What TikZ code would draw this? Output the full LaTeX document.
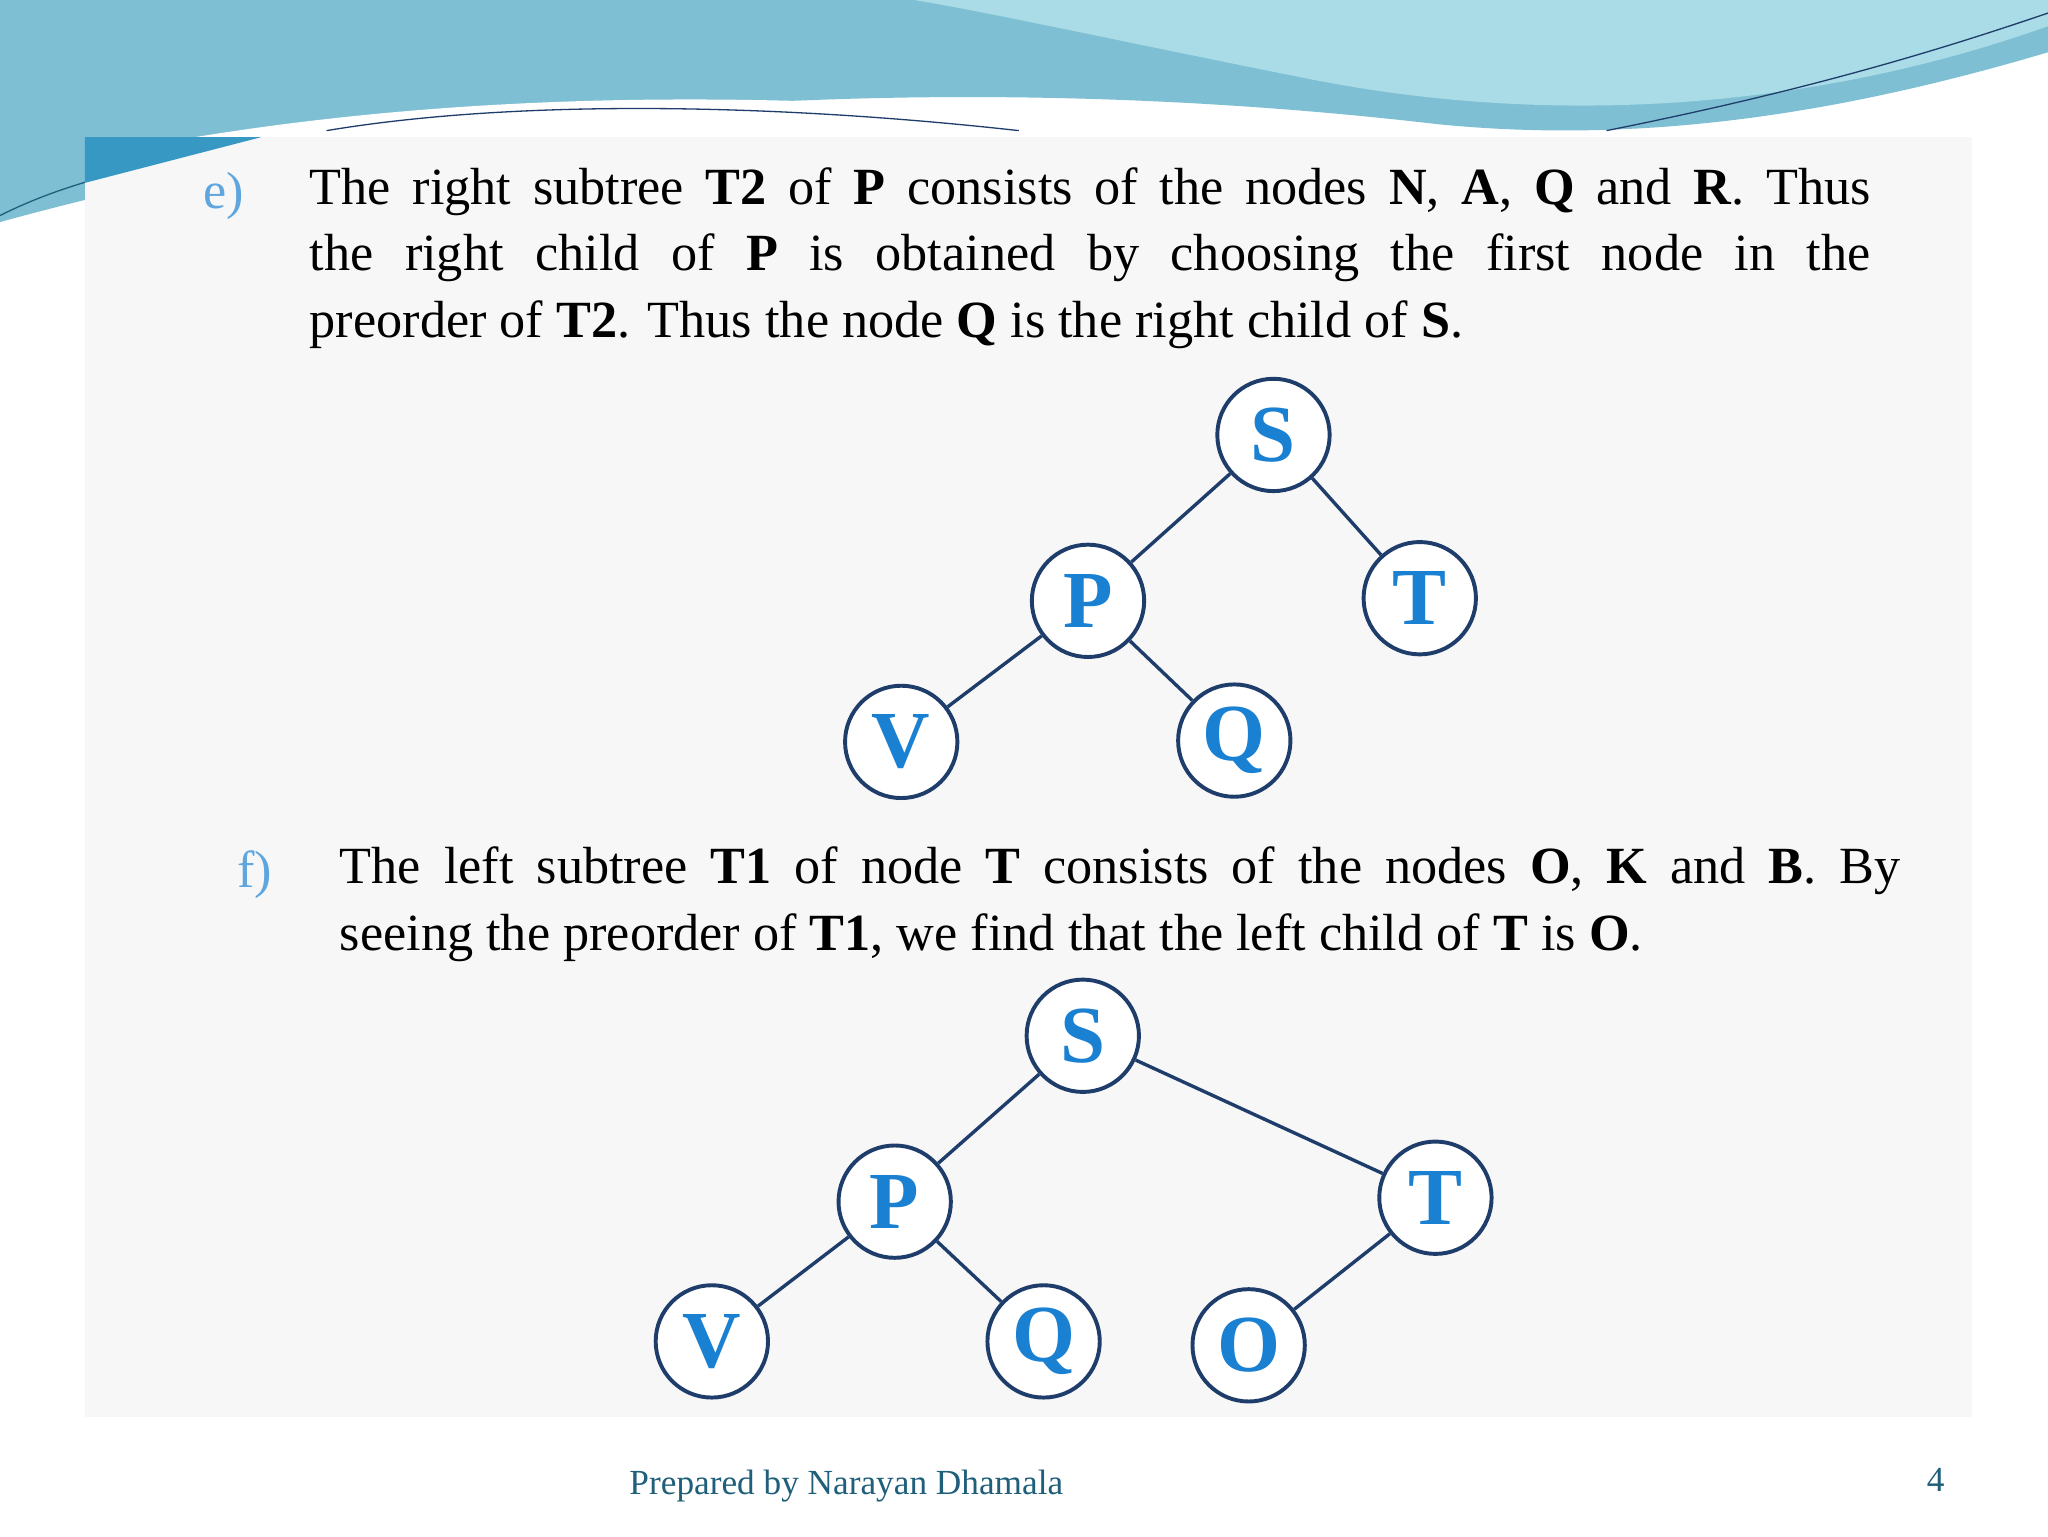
\documentclass[tikz,border=0pt]{standalone}
\usepackage{fontspec}
\setmainfont{Liberation Serif}
\definecolor{navy}{HTML}{1F3D6B}
\definecolor{lblue}{HTML}{1A80D2}
\definecolor{wave1}{HTML}{7FBFD3}
\definecolor{wave2}{HTML}{A9DCE6}
\definecolor{teal}{HTML}{1F5F7A}
\begin{document}
\begin{tikzpicture}[x=1pt,y=-1pt,
  tn/.style={circle,draw=navy,line width=3pt,minimum size=86pt,inner sep=0pt,fill=white,
    text=lblue,font=\fontsize{62}{62}\selectfont\bfseries},
  ed/.style={draw=navy,line width=2.6pt},
  para/.style={anchor=north west,align=left,inner sep=0pt,font=\fontsize{40}{51}\selectfont}]
\useasboundingbox (0,0) rectangle (1568,1176);
\fill[white] (0,0) rectangle (1568,1176);
% top waves
\fill[wave1] (0,0) -- (1568,0) -- (1568,40) .. controls (1400,90) and (1250,110) .. (1100,95) .. controls (800,60) and (400,60) .. (0,170) -- cycle;
\fill[wave2] (700,0) -- (1568,0) -- (1568,20) .. controls (1400,80) and (1200,100) .. (1000,60) .. controls (850,30) and (760,10) .. (700,0) -- cycle;
\fill[white] (120,110) .. controls (400,60) and (700,70) .. (1000,110) -- (120,110) -- cycle;
\draw[navy,line width=1pt] (250,100) .. controls (400,75) and (600,80) .. (780,100);
\draw[navy,line width=1pt] (1230,100) .. controls (1380,70) and (1480,40) .. (1568,10);
\draw[teal,line width=1pt] (0,165) .. controls (30,150) and (60,140) .. (100,130);
\fill[white!97!black] (65,105) rectangle (1510,1085);
\fill[cyan!60!teal] (65,105) -- (200,105) -- (65,140) -- cycle;
% text e
\node[anchor=north west,text=lblue!70,font=\fontsize{40}{51}\selectfont] (e) at (152,128) {e)};
\node[para] (pe) at (237,128) {\makebox[1195pt][s]{The right subtree \textbf{T2} of \textbf{P} consists of the nodes \textbf{N}, \textbf{A}, \textbf{Q} and \textbf{R}. Thus}\\
\makebox[1195pt][s]{the right child of \textbf{P} is obtained by choosing the first node in the}\\
preorder of \textbf{T2}. Thus the node \textbf{Q} is the right child of \textbf{S}.};
% tree 1
\node[tn] (s1) at (975,333) {S};
\node[tn] (p1) at (833,460) {P};
\node[tn] (t1) at (1087,458) {T};
\node[tn] (v1) at (690,568) {V};
\node[tn] (q1) at (945,567) {Q};
\draw[ed] (s1)--(p1); \draw[ed] (s1)--(t1); \draw[ed] (p1)--(v1); \draw[ed] (p1)--(q1);
% text f
\node[anchor=north west,text=lblue!70,font=\fontsize{40}{51}\selectfont] (f) at (178,648) {f)};
\node[para] (pf) at (260,648) {\makebox[1195pt][s]{The left subtree \textbf{T1} of node \textbf{T} consists of the nodes \textbf{O}, \textbf{K} and \textbf{B}. By}\\
seeing the preorder of \textbf{T1}, we find that the left child of \textbf{T} is \textbf{O}.};
% tree 2
\node[tn] (s2) at (829,793) {S};
\node[tn] (p2) at (685,920) {P};
\node[tn] (t2) at (1099,917) {T};
\node[tn] (v2) at (545,1027) {V};
\node[tn] (q2) at (799,1027) {Q};
\node[tn] (o2) at (956,1030) {O};
\draw[ed] (s2)--(p2); \draw[ed] (s2)--(t2); \draw[ed] (p2)--(v2); \draw[ed] (p2)--(q2); \draw[ed] (t2)--(o2);
% footer
\node[text=teal,font=\fontsize{27}{27}\selectfont] (ft) at (648,1138) {Prepared by Narayan Dhamala};
\node[text=teal,font=\fontsize{27}{27}\selectfont] (pg) at (1482,1133) {4};
\end{tikzpicture}
\end{document}
